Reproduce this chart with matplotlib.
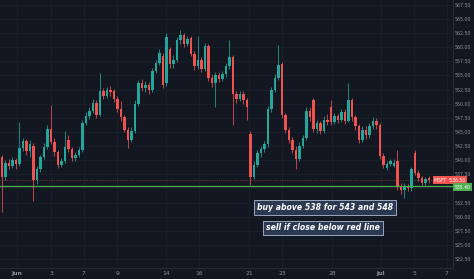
import matplotlib
matplotlib.use('Agg')
import matplotlib.pyplot as plt
import numpy as np

# hourly-ish candles
opens = [540.5, 537.0, 539.5, 539.0, 540.0, 539.3, 542.2, 543.4, 541.6, 542.6,
         536.5, 538.4, 540.6, 542.4, 545.6, 543.2, 541.4, 539.2, 539.9, 543.6,
         542.0, 540.4, 540.9, 541.8, 546.6, 547.8, 548.8, 550.2, 548.0, 552.2,
         551.4, 552.4, 552.2, 550.8, 549.0, 547.6, 545.4, 543.6, 545.2, 550.0,
         553.6, 552.8, 553.4, 552.4, 555.8, 557.2, 558.4, 553.7, 559.6, 557.0,
         557.8, 561.2, 562.2, 560.6, 561.6, 558.8, 556.6, 557.8, 556.2, 560.2,
         554.6, 553.6, 555.0, 554.4, 555.2, 556.6, 558.2, 551.8, 550.8, 551.8,
         550.6, 544.6, 537.0, 539.2, 541.2, 542.0, 542.8, 549.0, 552.4, 554.6,
         557.0, 548.0, 545.4, 543.6, 541.8, 540.2, 542.6, 544.0, 548.8, 550.6,
         545.6, 546.6, 545.2, 547.2, 549.4, 546.8, 547.8, 547.2, 548.6, 547.0,
         550.6, 547.6, 546.0, 543.6, 545.4, 544.4, 546.0, 547.0, 546.2, 540.8,
         538.6, 539.4, 539.0, 539.8, 535.4, 534.7, 535.5, 535.0, 541.3, 537.8,
         536.8, 536.0, 536.9]
closes = [537.0, 539.5, 539.0, 540.0, 539.3, 542.2, 543.4, 541.6, 542.8, 536.5,
          538.4, 540.6, 542.4, 545.6, 543.2, 541.4, 539.2, 539.9, 542.4, 542.0,
          540.4, 540.9, 541.8, 546.6, 547.8, 548.8, 550.2, 548.0, 552.2, 551.4,
          552.4, 552.0, 550.8, 549.0, 547.6, 545.4, 543.6, 545.2, 550.0, 553.6,
          552.8, 553.4, 552.4, 555.8, 557.2, 558.9, 553.4, 561.8, 557.0, 557.8,
          561.2, 562.2, 560.6, 561.4, 558.8, 556.6, 557.8, 556.2, 560.2, 554.6,
          553.6, 555.0, 554.4, 555.2, 556.6, 558.2, 551.8, 550.8, 551.8, 550.6,
          549.4, 537.0, 539.2, 541.2, 542.0, 542.8, 549.0, 552.4, 554.6, 556.8,
          548.0, 545.4, 543.6, 541.8, 540.2, 542.6, 544.0, 548.8, 547.6, 545.6,
          546.6, 545.2, 547.2, 546.8, 546.8, 547.8, 547.2, 548.6, 547.0, 550.6,
          547.6, 546.0, 543.6, 545.4, 544.4, 546.0, 547.0, 546.2, 540.8, 539.2,
          539.4, 539.8, 539.6, 535.4, 534.7, 535.5, 535.0, 538.4, 537.8, 536.8,
          536.0, 536.6, 536.5]
highs = [541.0, 540.0, 540.2, 540.6, 540.4, 546.8, 544.0, 543.8, 543.5, 543.0,
         539.0, 541.0, 543.0, 546.2, 549.8, 544.0, 541.8, 540.4, 545.2, 544.5,
         542.4, 541.4, 542.3, 547.2, 548.5, 549.4, 550.8, 550.6, 555.4, 552.8,
         553.0, 553.2, 552.6, 551.4, 550.5, 548.0, 545.8, 545.8, 550.6, 554.2,
         554.3, 554.0, 553.8, 556.4, 557.8, 559.6, 559.0, 562.6, 560.0, 558.6,
         561.8, 563.0, 562.6, 562.0, 562.0, 559.4, 562.0, 558.2, 560.8, 560.6,
         555.2, 555.6, 555.6, 555.8, 557.2, 561.2, 558.6, 552.2, 552.2, 552.2,
         551.0, 545.2, 539.8, 541.8, 542.6, 543.4, 549.6, 553.0, 555.2, 560.4,
         557.4, 548.4, 545.8, 544.2, 542.6, 543.2, 544.4, 549.4, 549.4, 551.0,
         547.2, 547.0, 547.8, 548.2, 550.7, 548.4, 548.2, 549.0, 549.0, 553.6,
         551.0, 548.0, 546.4, 546.0, 546.0, 546.6, 547.6, 547.4, 546.6, 541.2,
         539.8, 540.2, 540.2, 541.8, 536.0, 536.0, 535.8, 538.8, 541.8, 538.2,
         537.2, 537.0, 537.2]
lows = [530.8, 536.5, 538.5, 538.6, 538.4, 539.0, 541.6, 541.0, 540.6, 532.8,
        535.8, 538.0, 540.2, 542.0, 542.8, 540.8, 538.6, 538.8, 539.5, 541.4,
        539.9, 539.8, 540.6, 541.5, 546.2, 547.3, 548.4, 547.4, 547.8, 550.8,
        551.0, 551.4, 550.3, 548.6, 547.0, 545.0, 542.2, 543.2, 544.8, 549.6,
        552.2, 552.0, 551.8, 552.0, 555.4, 556.8, 552.8, 553.2, 556.4, 556.4,
        557.4, 560.6, 560.0, 560.2, 558.4, 556.0, 556.2, 555.6, 555.8, 554.0,
        553.0, 549.4, 553.8, 554.0, 554.8, 556.2, 546.2, 550.2, 550.4, 550.0,
        547.2, 535.6, 536.6, 538.8, 540.6, 541.4, 542.4, 548.6, 552.0, 554.2,
        547.4, 544.8, 543.0, 541.2, 538.4, 539.8, 542.2, 543.6, 547.0, 545.0,
        544.8, 544.6, 544.8, 546.2, 546.2, 546.4, 546.6, 546.8, 546.4, 546.8,
        547.0, 545.4, 543.0, 543.2, 543.8, 544.0, 545.6, 545.6, 540.2, 538.6,
        538.2, 539.0, 538.8, 534.8, 534.0, 533.4, 534.6, 534.6, 537.4, 536.4,
        535.6, 535.6, 536.0]

date_labels = ['Jun', '3', '7', '9', '14', '16', '21', '23', '28', 'Jul', '5', '7']
date_candle = [4.3, 14.0, 23.4, 32.9, 46.9, 56.3, 70.6, 80.0, 94.3, 108.3, 117.7, 127.1]

support = 535.40
symbol = 'MSFT'
note_buy = 'buy above 538 for 543 and 548'
note_sell = 'sell if close below red line'

BG = '#131722'
GRID = '#1c202b'
UP = '#26a69a'
DOWN = '#ef5350'
TXT = '#8c909b'

o = np.array(opens)
c = np.array(closes)
h = np.array(highs)
l = np.array(lows)
x = np.arange(len(c))
cols = np.where(c >= o, UP, DOWN)

fig = plt.figure(figsize=(4.74, 2.79), dpi=100)
fig.patch.set_facecolor(BG)
ax = fig.add_axes([0, 11 / 279, 453 / 474, 268 / 279])
ax.set_facecolor(BG)

ax.vlines(x, l, h, colors=cols, linewidth=0.55, zorder=3)
body = np.maximum(np.abs(c - o), 0.08)
ax.bar(x, body, bottom=np.minimum(o, c), width=0.72, color=cols, linewidth=0, zorder=4)

ax.set_xlim(-0.57, 128.86)
ax.set_ylim(520.93, 568.36)

yt = np.arange(522.5, 568.0, 2.5)
ax.set_yticks(yt)
ax.set_yticklabels(['' if abs(v - 535) < 0.01 else f'{v:.2f}' for v in yt])
ax.yaxis.tick_right()
ax.set_xticks(date_candle)
ax.set_xticklabels(date_labels)
for lab in ax.get_xticklabels():
    if lab.get_text() in ('Jun', 'Jul'):
        lab.set_fontweight('bold')
ax.tick_params(length=0, colors=TXT, labelsize=4.3)
ax.tick_params(axis='y', pad=1.2, labelsize=3.4)
ax.tick_params(axis='x', pad=2.5)
ax.grid(color=GRID, linewidth=0.6, zorder=0)
ax.set_axisbelow(True)
for s in ['top', 'left']:
    ax.spines[s].set_visible(False)
for s in ['bottom', 'right']:
    ax.spines[s].set_color('#2a2e39')
    ax.spines[s].set_linewidth(0.6)

ax.axhline(support, color='#4caf50', linewidth=0.9, zorder=5)
ax.axhline(c[-1], color=DOWN, linewidth=0.5, linestyle=(0, (1, 1.5)), alpha=0.8, zorder=2)

tr = ax.get_yaxis_transform()
ax.text(0.958, c[-1], f'{symbol}  {c[-1]:.2f}', transform=tr, fontsize=3.3, color='white',
        va='center', ha='left', clip_on=False, zorder=8,
        bbox=dict(boxstyle='square,pad=0.3', fc=DOWN, ec='none'))
ax.text(1.004, support - 0.2, f'{support:.2f}', transform=tr, fontsize=3.3, color='white',
        va='center', ha='left', clip_on=False, zorder=9,
        bbox=dict(boxstyle='square,pad=0.3', fc='#4caf50', ec='none'))

box = dict(boxstyle='square,pad=0.35', fc='#2a3852', ec='#9aa6ba', lw=0.7)
ax.text(325 / 453, (268 - 207.5) / 268, note_buy, transform=ax.transAxes, fontsize=5.6,
        color='white', fontweight='bold', style='italic', ha='center', va='center',
        bbox=box, zorder=10)
ax.text(323 / 453, (268 - 228) / 268, note_sell, transform=ax.transAxes, fontsize=5.6,
        color='white', fontweight='bold', style='italic', ha='center', va='center',
        bbox=box, zorder=10)

fig.savefig('out.png', dpi=100, facecolor=BG)
plt.close(fig)
